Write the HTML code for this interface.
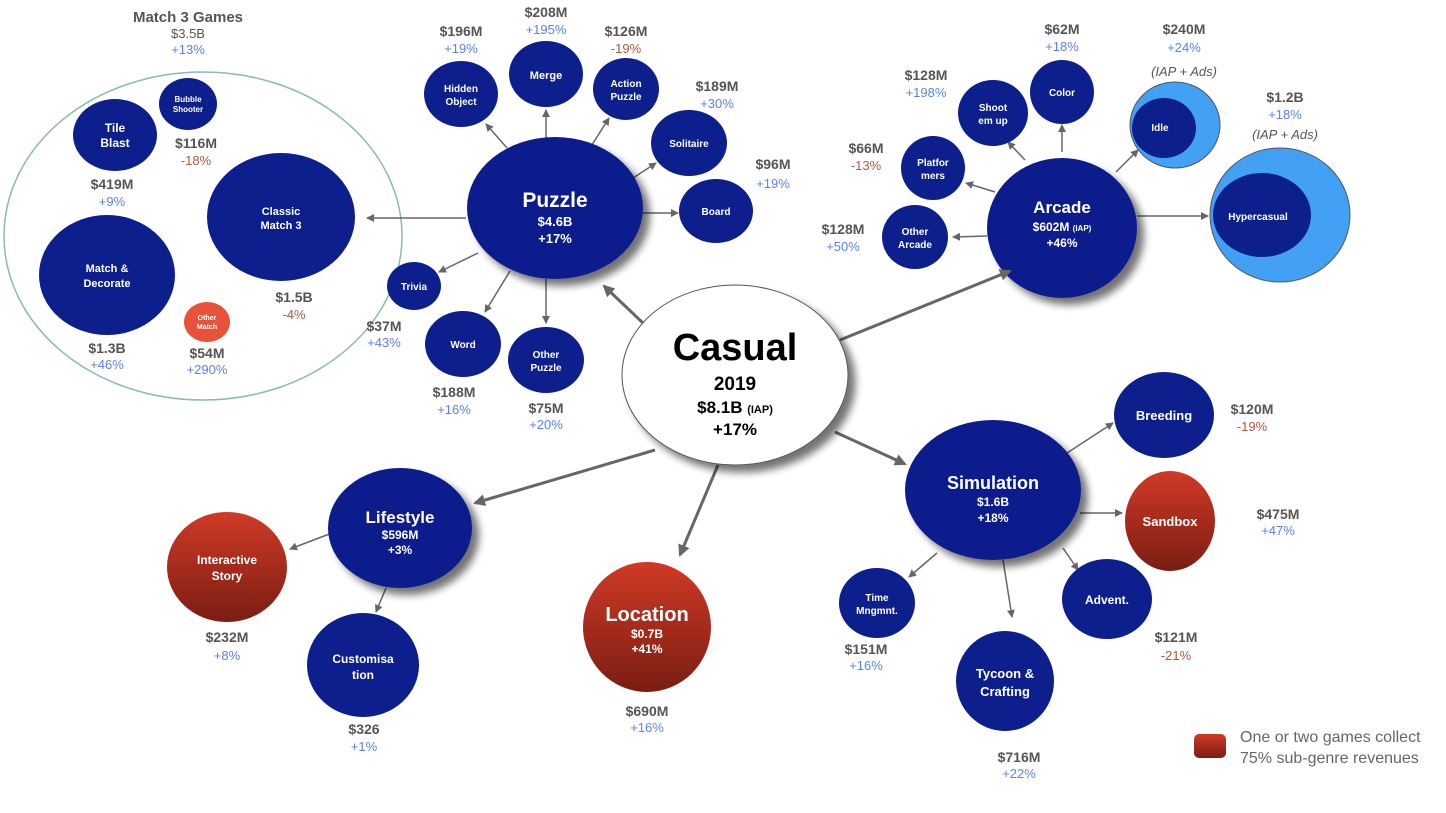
<!DOCTYPE html>
<html><head><meta charset="utf-8"><style>
html,body{margin:0;padding:0;background:#fff;}
svg{display:block;font-family:"Liberation Sans",sans-serif;}
.n{fill:#0c1f8c;}
.w{fill:#fff;font-weight:bold;text-anchor:middle;}
.v{fill:#555;font-weight:bold;font-size:14px;text-anchor:middle;}
.p{fill:#5b7ff5;font-size:13px;text-anchor:middle;}
.m{fill:#b5553e;font-size:13px;text-anchor:middle;}
.a{stroke:#666;stroke-width:1.5;fill:none;marker-end:url(#ah);}
.A{stroke:#666;stroke-width:3;fill:none;marker-end:url(#ah2);}
</style></head><body>
<svg width="1446" height="813" viewBox="0 0 1446 813">
<defs>
<marker id="ah" markerWidth="8" markerHeight="8" refX="7" refY="4" orient="auto" markerUnits="userSpaceOnUse"><path d="M0,0 L8,4 L0,8 z" fill="#666"/></marker>
<marker id="ah2" markerWidth="12" markerHeight="12" refX="10" refY="6" orient="auto" markerUnits="userSpaceOnUse"><path d="M0,0 L12,6 L0,12 z" fill="#666"/></marker>
<filter id="sh" x="-30%" y="-30%" width="170%" height="170%"><feGaussianBlur in="SourceAlpha" stdDeviation="4"/><feOffset dx="7" dy="7"/><feComponentTransfer><feFuncA type="linear" slope="0.55"/></feComponentTransfer><feMerge><feMergeNode/><feMergeNode in="SourceGraphic"/></feMerge></filter>
<linearGradient id="rg" x1="0" y1="0" x2="0" y2="1"><stop offset="0" stop-color="#d03a26"/><stop offset="1" stop-color="#7a1d12"/></linearGradient>
</defs>

<!-- Match 3 group -->
<ellipse cx="203" cy="236" rx="199" ry="164" fill="#fff" stroke="#8bb8b8" stroke-width="1.5"/>
<text x="188" y="22" class="v" style="font-size:15px">Match 3 Games</text>
<text x="188" y="38" style="fill:#555;font-size:13px;text-anchor:middle">$3.5B</text>
<text x="188" y="54" class="p">+13%</text>
<ellipse cx="115" cy="135" rx="42" ry="36" class="n"/>
<text x="115" y="132" class="w" font-size="12">Tile</text><text x="115" y="147" class="w" font-size="12">Blast</text>
<ellipse cx="188" cy="104" rx="29" ry="26" class="n"/>
<text x="188" y="102" class="w" font-size="8">Bubble</text><text x="188" y="112" class="w" font-size="8">Shooter</text>
<ellipse cx="281" cy="217" rx="74" ry="64" class="n"/>
<text x="281" y="215" class="w" font-size="11">Classic</text><text x="281" y="229" class="w" font-size="11">Match 3</text>
<ellipse cx="107" cy="275" rx="68" ry="60" class="n"/>
<text x="107" y="272" class="w" font-size="11">Match &amp;</text><text x="107" y="287" class="w" font-size="11">Decorate</text>
<ellipse cx="207" cy="322" rx="23" ry="20" fill="#e8513a"/>
<text x="207" y="320" class="w" font-size="7">Other</text><text x="207" y="329" class="w" font-size="7">Match</text>
<text x="196" y="148" class="v">$116M</text><text x="196" y="165" class="m">-18%</text>
<text x="112" y="189" class="v">$419M</text><text x="112" y="206" class="p">+9%</text>
<text x="294" y="302" class="v">$1.5B</text><text x="294" y="319" class="m">-4%</text>
<text x="107" y="353" class="v">$1.3B</text><text x="107" y="369" class="p">+46%</text>
<text x="207" y="358" class="v">$54M</text><text x="207" y="374" class="p">+290%</text>

<!-- Puzzle connectors -->
<line x1="466" y1="218" x2="367" y2="218" class="a"/>
<line x1="507" y1="148" x2="486" y2="124" class="a"/>
<line x1="546" y1="138" x2="546" y2="110" class="a"/>
<line x1="590" y1="148" x2="609" y2="118" class="a"/>
<line x1="630" y1="180" x2="656" y2="163" class="a"/>
<line x1="643" y1="213" x2="678" y2="213" class="a"/>
<line x1="478" y1="253" x2="439" y2="272" class="a"/>
<line x1="510" y1="271" x2="485" y2="312" class="a"/>
<line x1="546" y1="279" x2="546" y2="323" class="a"/>

<ellipse cx="555" cy="208" rx="88" ry="71" class="n" filter="url(#sh)"/>
<text x="555" y="207" class="w" font-size="21">Puzzle</text>
<text x="555" y="226" class="w" font-size="13">$4.6B</text>
<text x="555" y="243" class="w" font-size="13">+17%</text>

<ellipse cx="461" cy="94" rx="37" ry="33" class="n"/><text x="461" y="92" class="w" font-size="10">Hidden</text><text x="461" y="105" class="w" font-size="10">Object</text>
<text x="461" y="36" class="v">$196M</text><text x="461" y="53" class="p">+19%</text>
<ellipse cx="546" cy="74" rx="37" ry="33" class="n"/><text x="546" y="79" class="w" font-size="11">Merge</text>
<text x="546" y="17" class="v">$208M</text><text x="546" y="34" class="p">+195%</text>
<ellipse cx="626" cy="89" rx="33" ry="31" class="n"/><text x="626" y="87" class="w" font-size="10">Action</text><text x="626" y="100" class="w" font-size="10">Puzzle</text>
<text x="626" y="36" class="v">$126M</text><text x="626" y="53" class="m">-19%</text>
<ellipse cx="689" cy="143" rx="38" ry="33" class="n"/><text x="689" y="147" class="w" font-size="10">Solitaire</text>
<text x="717" y="91" class="v">$189M</text><text x="717" y="108" class="p">+30%</text>
<ellipse cx="716" cy="211" rx="37" ry="32" class="n"/><text x="716" y="215" class="w" font-size="10">Board</text>
<text x="773" y="169" class="v">$96M</text><text x="773" y="188" class="p">+19%</text>
<ellipse cx="414" cy="286" rx="27" ry="24" class="n"/><text x="414" y="290" class="w" font-size="10">Trivia</text>
<text x="384" y="331" class="v">$37M</text><text x="384" y="347" class="p">+43%</text>
<ellipse cx="463" cy="344" rx="38" ry="33" class="n"/><text x="463" y="348" class="w" font-size="10">Word</text>
<text x="454" y="397" class="v">$188M</text><text x="454" y="414" class="p">+16%</text>
<ellipse cx="546" cy="360" rx="38" ry="33" class="n"/><text x="546" y="358" class="w" font-size="10">Other</text><text x="546" y="371" class="w" font-size="10">Puzzle</text>
<text x="546" y="413" class="v">$75M</text><text x="546" y="429" class="p">+20%</text>

<!-- Arcade -->
<line x1="1137" y1="216" x2="1208" y2="216" class="a"/>
<line x1="1116" y1="172" x2="1138" y2="150" class="a"/>
<line x1="1062" y1="152" x2="1062" y2="125" class="a"/>
<line x1="1025" y1="160" x2="1008" y2="142" class="a"/>
<line x1="995" y1="192" x2="966" y2="183" class="a"/>
<line x1="987" y1="236" x2="953" y2="237" class="a"/>
<ellipse cx="1062" cy="228" rx="75" ry="70" class="n" filter="url(#sh)"/>
<text x="1062" y="213" class="w" font-size="17">Arcade</text>
<text x="1062" y="231" class="w" font-size="12">$602M <tspan font-size="8">(IAP)</tspan></text>
<text x="1062" y="247" class="w" font-size="12">+46%</text>
<ellipse cx="993" cy="113" rx="35" ry="33" class="n"/><text x="993" y="111" class="w" font-size="10">Shoot</text><text x="993" y="124" class="w" font-size="10">em up</text>
<text x="926" y="80" class="v">$128M</text><text x="926" y="97" class="p">+198%</text>
<ellipse cx="1062" cy="92" rx="32" ry="32" class="n"/><text x="1062" y="96" class="w" font-size="10">Color</text>
<text x="1062" y="34" class="v">$62M</text><text x="1062" y="51" class="p">+18%</text>
<ellipse cx="933" cy="168" rx="32" ry="32" class="n"/><text x="933" y="166" class="w" font-size="10">Platfor</text><text x="933" y="179" class="w" font-size="10">mers</text>
<text x="866" y="153" class="v">$66M</text><text x="866" y="170" class="m">-13%</text>
<ellipse cx="915" cy="237" rx="33" ry="32" class="n"/><text x="915" y="235" class="w" font-size="10">Other</text><text x="915" y="248" class="w" font-size="10">Arcade</text>
<text x="843" y="234" class="v">$128M</text><text x="843" y="251" class="p">+50%</text>
<ellipse cx="1175" cy="125" rx="45" ry="43" fill="#42a0f5" stroke="#555" stroke-width="1"/>
<ellipse cx="1164" cy="128" rx="32" ry="30" class="n"/><text x="1160" y="131" class="w" font-size="10">Idle</text>
<text x="1184" y="34" class="v">$240M</text><text x="1184" y="52" class="p">+24%</text>
<text x="1184" y="76" style="fill:#555;font-size:13px;font-style:italic;text-anchor:middle">(IAP + Ads)</text>
<ellipse cx="1280" cy="215" rx="70" ry="67" fill="#42a0f5" stroke="#555" stroke-width="1"/>
<ellipse cx="1262" cy="215" rx="49" ry="42" class="n"/><text x="1258" y="220" class="w" font-size="10">Hypercasual</text>
<text x="1285" y="102" class="v">$1.2B</text><text x="1285" y="119" class="p">+18%</text>
<text x="1285" y="139" style="fill:#555;font-size:13px;font-style:italic;text-anchor:middle">(IAP + Ads)</text>

<!-- Simulation -->
<line x1="1064" y1="455" x2="1113" y2="423" class="a"/>
<line x1="1080" y1="513" x2="1122" y2="513" class="a"/>
<line x1="1063" y1="548" x2="1078" y2="570" class="a"/>
<line x1="1003" y1="560" x2="1012" y2="617" class="a"/>
<line x1="937" y1="553" x2="909" y2="577" class="a"/>
<ellipse cx="993" cy="490" rx="88" ry="70" class="n" filter="url(#sh)"/>
<text x="993" y="489" class="w" font-size="18">Simulation</text>
<text x="993" y="506" class="w" font-size="12">$1.6B</text>
<text x="993" y="522" class="w" font-size="12">+18%</text>
<ellipse cx="1164" cy="415" rx="50" ry="43" class="n"/><text x="1164" y="420" class="w" font-size="13">Breeding</text>
<text x="1252" y="414" class="v">$120M</text><text x="1252" y="431" class="m">-19%</text>
<ellipse cx="1170" cy="521" rx="45" ry="50" fill="url(#rg)"/><text x="1170" y="526" class="w" font-size="13">Sandbox</text>
<text x="1278" y="519" class="v">$475M</text><text x="1278" y="535" class="p">+47%</text>
<ellipse cx="1107" cy="599" rx="45" ry="40" class="n"/><text x="1107" y="604" class="w" font-size="12">Advent.</text>
<text x="1176" y="642" class="v">$121M</text><text x="1176" y="660" class="m">-21%</text>
<ellipse cx="1005" cy="681" rx="49" ry="50" class="n"/><text x="1005" y="678" class="w" font-size="13">Tycoon &amp;</text><text x="1005" y="696" class="w" font-size="13">Crafting</text>
<text x="1019" y="762" class="v">$716M</text><text x="1019" y="778" class="p">+22%</text>
<ellipse cx="877" cy="603" rx="38" ry="35" class="n"/><text x="877" y="601" class="w" font-size="10">Time</text><text x="877" y="614" class="w" font-size="10">Mngmnt.</text>
<text x="866" y="654" class="v">$151M</text><text x="866" y="670" class="p">+16%</text>

<!-- Lifestyle -->
<line x1="332" y1="533" x2="290" y2="549" class="a"/>
<line x1="386" y1="588" x2="376" y2="612" class="a"/>
<ellipse cx="400" cy="528" rx="72" ry="60" class="n" filter="url(#sh)"/>
<text x="400" y="523" class="w" font-size="17">Lifestyle</text>
<text x="400" y="539" class="w" font-size="12">$596M</text>
<text x="400" y="554" class="w" font-size="12">+3%</text>
<ellipse cx="227" cy="567" rx="60" ry="55" fill="url(#rg)"/><text x="227" y="564" class="w" font-size="12">Interactive</text><text x="227" y="580" class="w" font-size="12">Story</text>
<text x="227" y="642" class="v">$232M</text><text x="227" y="660" class="p">+8%</text>
<ellipse cx="363" cy="665" rx="56" ry="52" class="n"/><text x="363" y="663" class="w" font-size="12">Customisa</text><text x="363" y="679" class="w" font-size="12">tion</text>
<text x="364" y="734" class="v">$326</text><text x="364" y="751" class="p">+1%</text>

<!-- Location -->
<ellipse cx="647" cy="627" rx="64" ry="65" fill="url(#rg)"/>
<text x="647" y="621" class="w" font-size="20">Location</text>
<text x="647" y="638" class="w" font-size="12">$0.7B</text>
<text x="647" y="653" class="w" font-size="12">+41%</text>
<text x="647" y="716" class="v">$690M</text><text x="647" y="732" class="p">+16%</text>

<!-- Casual arrows -->
<line x1="643" y1="323" x2="604" y2="286" class="A"/>
<line x1="840" y1="340" x2="1010" y2="271" class="A"/>
<line x1="835" y1="432" x2="905" y2="464" class="A"/>
<line x1="655" y1="450" x2="475" y2="503" class="A"/>
<line x1="718" y1="465" x2="680" y2="555" class="A"/>

<ellipse cx="735" cy="375" rx="113" ry="90" fill="#fff" stroke="#555" stroke-width="1" filter="url(#sh)"/>
<text x="735" y="360" style="font-size:38px;font-weight:bold;text-anchor:middle">Casual</text>
<text x="735" y="390" style="font-size:19px;font-weight:bold;text-anchor:middle">2019</text>
<text x="735" y="413" style="font-size:17px;font-weight:bold;text-anchor:middle">$8.1B <tspan font-size="11">(IAP)</tspan></text>
<text x="735" y="435" style="font-size:17px;font-weight:bold;text-anchor:middle">+17%</text>

<!-- Legend -->
<rect x="1194" y="734" width="32" height="24" rx="5" fill="url(#rg)"/>
<text x="1240" y="742" style="fill:#666;font-size:16px">One or two games collect</text>
<text x="1240" y="763" style="fill:#666;font-size:16px">75% sub-genre revenues</text>
</svg>
</body></html>
